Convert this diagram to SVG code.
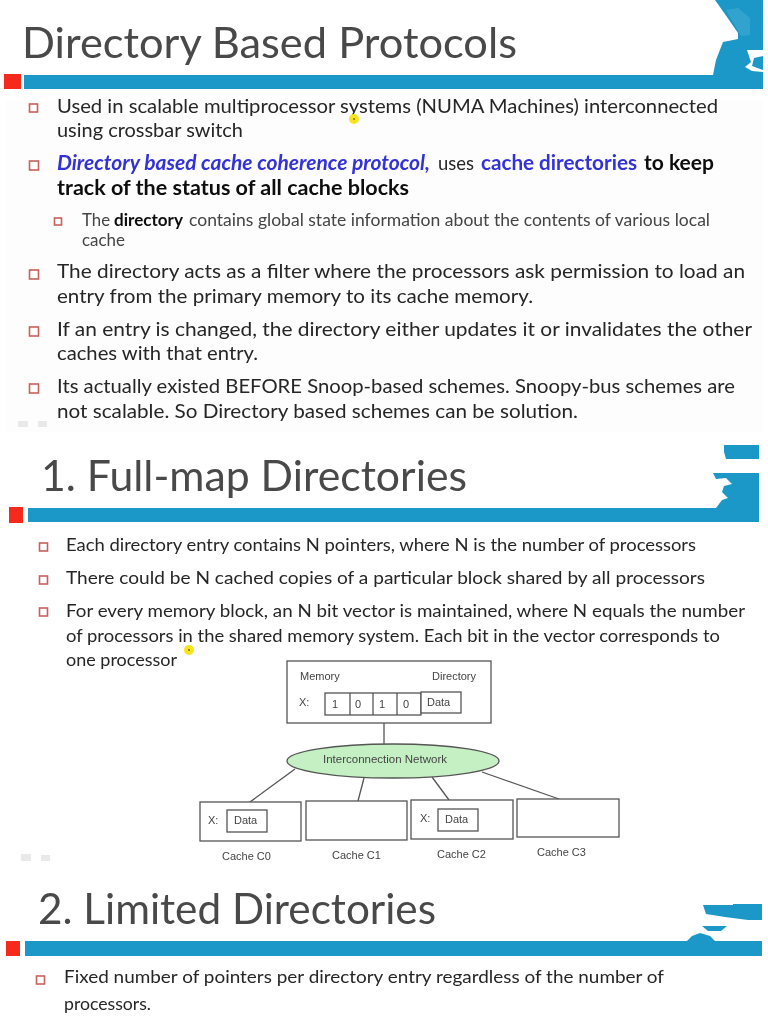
<svg xmlns="http://www.w3.org/2000/svg" width="768" height="1024" viewBox="0 0 768 1024">
<defs>
<filter id="soft" x="-5%" y="-5%" width="110%" height="110%"><feGaussianBlur stdDeviation="0.6"/></filter>
<filter id="softer" x="-3%" y="-20%" width="106%" height="140%"><feGaussianBlur stdDeviation="0.35"/></filter>
</defs>
<style>
text{font-family:Lato,"Liberation Sans",sans-serif;fill:#262626;filter:url(#softer)}
.title{font-size:42px;fill:#484848}
.b1{font-size:20px}
.b3{font-size:18px}
.b2{font-size:16.5px;fill:#444}
.bold{font-weight:700;fill:#111}
.blue{font-weight:700;fill:#3232d8}
.bul{fill:#fff;stroke:#c8605c;stroke-width:1.6}
.red{fill:#f5291f}
.bar{fill:#1b98c8}
.dg{font-family:"Liberation Sans",Arial,sans-serif;font-size:11px;fill:#444}
.box{fill:#fff;stroke:#555;stroke-width:1.3}
.conn{stroke:#555;stroke-width:1.3;fill:none}
.dot{fill:#f7e41c}
.dotc{fill:#8a6d10}
.ghost{fill:#e9e9e9}
</style>
<rect width="768" height="1024" fill="#fff"/>
<rect x="6" y="100" width="757" height="332" fill="#fdfdfd"/>

<g id="slide1-header" filter="url(#soft)">
<rect class="red" x="4" y="74" width="17" height="15"/>
<rect class="bar" x="24" y="75" width="739" height="14"/>
<path class="bar" d="M715 0H763V75H713L716 60L723 42L738 39L738 33L727 17Z"/>
<path fill="#fff" d="M747 50H763V56L754 58L752 66L763 70V72L752 71L745 67L751 62Z"/>
<path fill="#7cc4e0" opacity="0.25" filter="url(#soft)" d="M726 10L738 8L750 18L750 35L741 36L733 22Z"/>
</g>
<text class="title" x="22" y="58" textLength="495" lengthAdjust="spacingAndGlyphs">Directory Based Protocols</text>

<g id="slide1-bullets">
<rect class="bul" x="29.500" y="104" width="8" height="8"/>
<text class="b1" x="57" y="113" textLength="661" lengthAdjust="spacingAndGlyphs">Used in scalable multiprocessor systems (NUMA Machines) interconnected</text>
<text class="b1" x="57" y="137" textLength="186" lengthAdjust="spacingAndGlyphs">using crossbar switch</text>
<rect class="bul" x="29.500" y="161" width="9" height="9"/>
<text class="b1 blue" x="57" y="170" font-style="italic" textLength="373" lengthAdjust="spacingAndGlyphs">Directory based cache coherence protocol,</text>
<text class="b1" x="438" y="170" textLength="36" lengthAdjust="spacingAndGlyphs">uses</text>
<text class="b1 blue" x="481" y="170" textLength="156" lengthAdjust="spacingAndGlyphs">cache directories</text>
<text class="b1 bold" x="644" y="170" textLength="70" lengthAdjust="spacingAndGlyphs">to keep</text>
<text class="b1 bold" x="57" y="195" textLength="352" lengthAdjust="spacingAndGlyphs">track of the status of all cache blocks</text>
<rect class="bul" x="54.500" y="218" width="7" height="7"/>
<text class="b2" x="82" y="226" textLength="28" lengthAdjust="spacingAndGlyphs">The</text>
<text class="b2 bold" x="114" y="226" textLength="69" lengthAdjust="spacingAndGlyphs">directory</text>
<text class="b2" x="189" y="226" textLength="521" lengthAdjust="spacingAndGlyphs">contains global state information about the contents of various local</text>
<text class="b2" x="82" y="246" textLength="43" lengthAdjust="spacingAndGlyphs">cache</text>
<rect class="bul" x="29.500" y="270" width="9" height="9"/>
<text class="b1" x="57" y="278" textLength="688" lengthAdjust="spacingAndGlyphs">The directory acts as a filter where the processors ask permission to load an</text>
<text class="b1" x="57" y="303" textLength="476" lengthAdjust="spacingAndGlyphs">entry from the primary memory to its cache memory.</text>
<rect class="bul" x="29.500" y="327" width="9" height="9"/>
<text class="b1" x="57" y="336" textLength="695" lengthAdjust="spacingAndGlyphs">If an entry is changed, the directory either updates it or invalidates the other</text>
<text class="b1" x="57" y="360" textLength="201" lengthAdjust="spacingAndGlyphs">caches with that entry.</text>
<rect class="bul" x="29.500" y="384" width="9" height="9"/>
<text class="b1" x="57" y="393" textLength="678" lengthAdjust="spacingAndGlyphs">Its actually existed BEFORE Snoop-based schemes. Snoopy-bus schemes are</text>
<text class="b1" x="57" y="418" textLength="521" lengthAdjust="spacingAndGlyphs">not scalable. So Directory based schemes can be solution.</text>
</g>
<g id="pointer-marks">
<circle class="dot" cx="354" cy="119" r="5"/><circle class="dotc" cx="354" cy="119" r="1"/>
<circle class="dot" cx="189" cy="650" r="5"/><circle class="dotc" cx="189" cy="650" r="1"/>
<rect class="ghost" x="18" y="421" width="10" height="6"/><rect class="ghost" x="38" y="421" width="9" height="6"/>
<rect class="ghost" x="21" y="854" width="10" height="7"/><rect class="ghost" x="41" y="855" width="9" height="6"/>
</g>

<g id="slide2-header" filter="url(#soft)">
<rect class="red" x="9" y="507" width="14" height="16"/>
<rect class="bar" x="28" y="508" width="731" height="14"/>
<path class="bar" d="M724 445H759V459H726L724 452Z"/>
<path class="bar" d="M713 473H759V508H716L722 500L728 498L722 492L724 486L732 484L726 478L716 479Z"/>
</g>
<text class="title" x="41" y="491" textLength="426" lengthAdjust="spacingAndGlyphs">1. Full-map Directories</text>

<g id="slide2-bullets">
<rect class="bul" x="39.500" y="543" width="8" height="8"/>
<text class="b3" x="66" y="551" textLength="630" lengthAdjust="spacingAndGlyphs">Each directory entry contains N pointers, where N is the number of processors</text>
<rect class="bul" x="39.500" y="576" width="8" height="8"/>
<text class="b3" x="66" y="584" textLength="639" lengthAdjust="spacingAndGlyphs">There could be N cached copies of a particular block shared by all processors</text>
<rect class="bul" x="39.500" y="608" width="8" height="8"/>
<text class="b3" x="66" y="617" textLength="679" lengthAdjust="spacingAndGlyphs">For every memory block, an N bit vector is maintained, where N equals the number</text>
<text class="b3" x="66" y="642" textLength="654" lengthAdjust="spacingAndGlyphs">of processors in the shared memory system. Each bit in the vector corresponds to</text>
<text class="b3" x="66" y="666" textLength="111" lengthAdjust="spacingAndGlyphs">one processor</text>
</g>

<g id="connectors" class="conn">
<line x1="384" y1="723" x2="384" y2="745"/>
<line x1="295" y1="769" x2="250" y2="802"/>
<line x1="364" y1="778" x2="358" y2="801"/>
<line x1="432" y1="777" x2="449" y2="800"/>
<line x1="482" y1="772" x2="559" y2="799"/>
</g>
<g id="memory">
<rect class="box" x="287" y="661" width="204" height="62"/>
<text class="dg" x="300" y="680">Memory</text>
<text class="dg" x="432" y="680">Directory</text>
<text class="dg" x="299" y="706">X:</text>
</g>
<g id="bit-vector">
<rect class="box" x="325" y="693" width="96" height="22"/>
<line class="conn" x1="350" y1="693" x2="350" y2="715"/>
<line class="conn" x1="373" y1="693" x2="373" y2="715"/>
<line class="conn" x1="397" y1="693" x2="397" y2="715"/>
<text class="dg" x="332" y="708">1</text><text class="dg" x="355" y="708">0</text><text class="dg" x="379" y="708">1</text><text class="dg" x="403" y="708">0</text>
<rect class="box" x="421" y="692" width="40" height="21"/>
<text class="dg" x="427" y="706">Data</text>
</g>
<g id="network">
<ellipse cx="393" cy="761" rx="106" ry="17" fill="#c4f0c4" stroke="#555" stroke-width="1.3"/>
<text class="dg" x="323" y="763" textLength="124" lengthAdjust="spacingAndGlyphs">Interconnection Network</text>
</g>
<g id="cache-c0">
<rect class="box" x="200" y="802" width="101" height="39"/>
<text class="dg" x="208" y="824">X:</text>
<rect class="box" x="227" y="810" width="40" height="22"/>
<text class="dg" x="234" y="824">Data</text>
<text class="dg" x="222" y="860">Cache C0</text>
</g>
<g id="cache-c1">
<rect class="box" x="306" y="801" width="101" height="39"/>
<text class="dg" x="332" y="859">Cache C1</text>
</g>
<g id="cache-c2">
<rect class="box" x="411" y="800" width="102" height="39"/>
<text class="dg" x="420" y="822">X:</text>
<rect class="box" x="438" y="809" width="40" height="22"/>
<text class="dg" x="445" y="823">Data</text>
<text class="dg" x="437" y="858">Cache C2</text>
</g>
<g id="cache-c3">
<rect class="box" x="517" y="799" width="102" height="38"/>
<text class="dg" x="537" y="856">Cache C3</text>
</g>

<g id="slide3-header" filter="url(#soft)">
<rect class="red" x="6" y="941" width="14" height="15"/>
<rect class="bar" x="25" y="941" width="737" height="15"/>
<path class="bar" d="M703 905H733V904H762V920H748L725 917L706 914Z"/>
<path class="bar" d="M702 926H727L721 931H708Z"/>
<path class="bar" d="M687 941L692 936L700 933L710 936L715 941Z"/>
</g>
<text class="title" x="38" y="924" textLength="398" lengthAdjust="spacingAndGlyphs">2. Limited Directories</text>

<g id="slide3-bullets">
<rect class="bul" x="36.500" y="976" width="8" height="8"/>
<text class="b3" x="64" y="983" textLength="600" lengthAdjust="spacingAndGlyphs">Fixed number of pointers per directory entry regardless of the number of</text>
<text class="b3" x="64" y="1010" textLength="87" lengthAdjust="spacingAndGlyphs">processors.</text>
</g>
</svg>
